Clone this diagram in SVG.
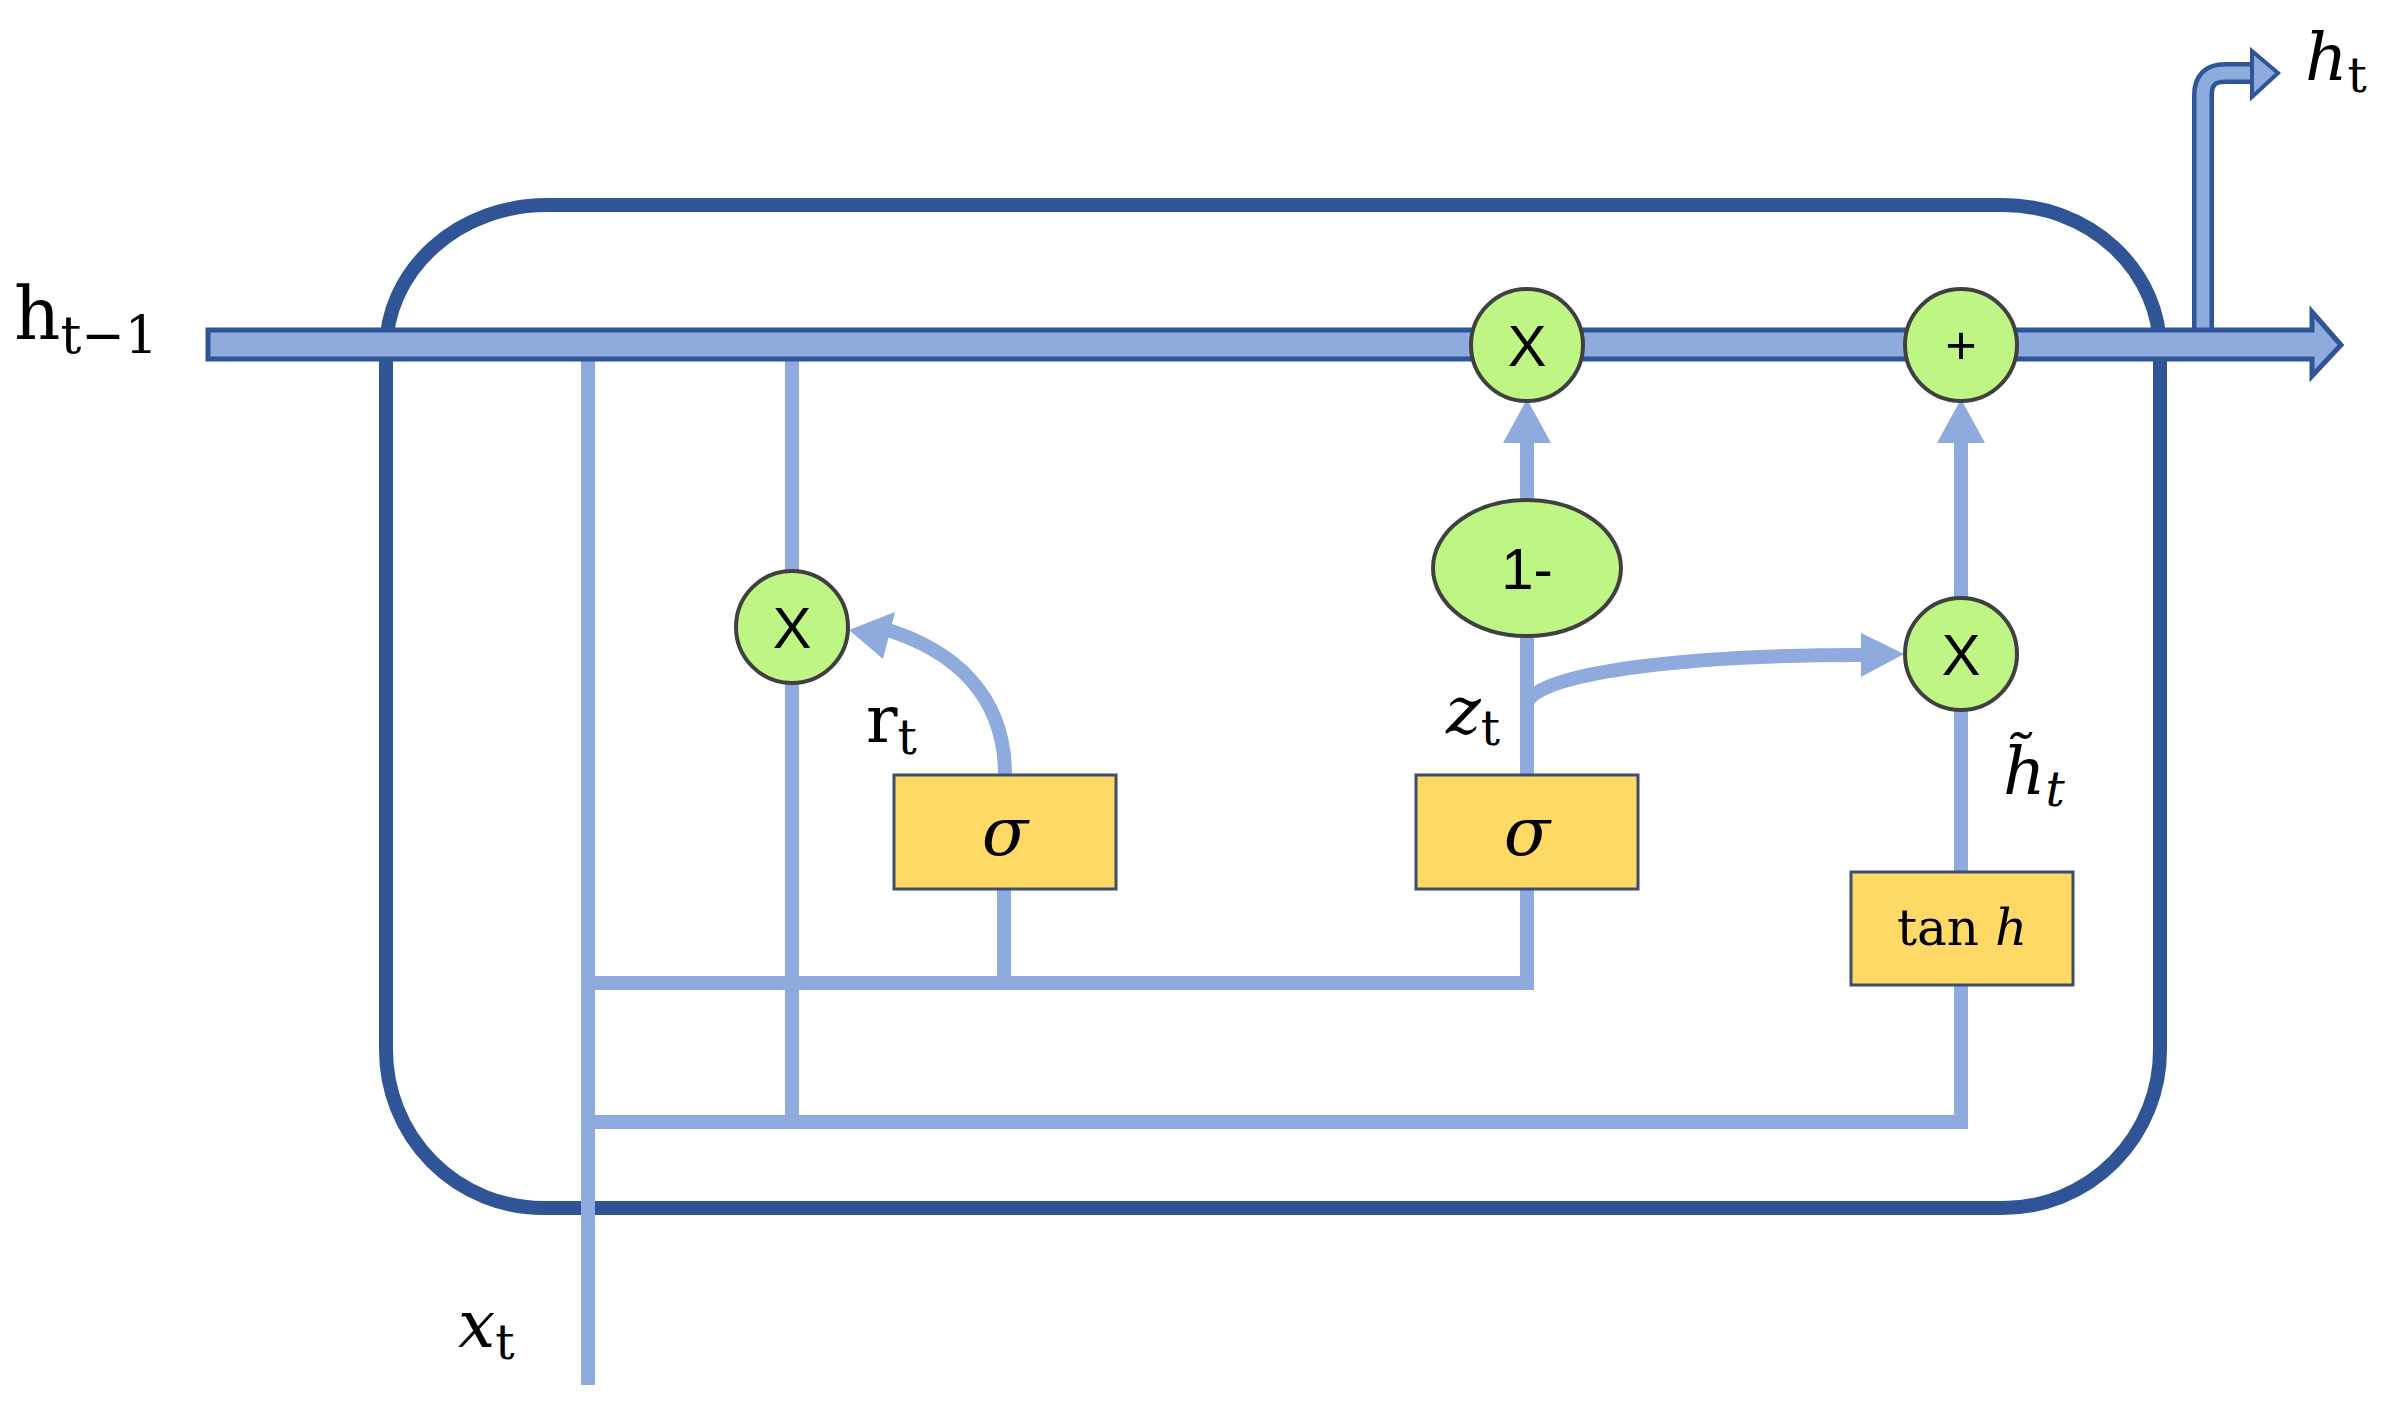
<svg xmlns="http://www.w3.org/2000/svg" width="2390" height="1421" viewBox="0 0 2390 1421">
<style>
.ln{stroke:#8FAADC;stroke-width:14;fill:none}
.ah{fill:#8FAADC}
.op{fill:#BEF584;stroke:#404040;stroke-width:4}
.bx{fill:#FFD966;stroke:#3B4E6B;stroke-width:3}
.t{font-family:"DejaVu Serif","Liberation Serif",serif;fill:#000}
.s{font-family:"Liberation Sans",Arial,sans-serif;fill:#000;text-anchor:middle}
</style>
<rect width="2390" height="1421" fill="#fff"/>
<g id="cell">
<path d="M386,350 A161,145 0 0 1 547,205 L2003,205 A157,145 0 0 1 2160,350 L2160,1050 A157,158 0 0 1 2003,1208 L543,1208 A157,158 0 0 1 386,1050 Z" fill="none" stroke="#2F5597" stroke-width="14"/>
</g>
<g id="connectors">
<path class="ln" d="M588,359 V1385 M792,359 V571 M792,683 V1122 M581,983 H1534 M1004,889 V983 M1527,889 V983 M581,1122 H1968 M1961,985 V1122 M1527,636 V775 M1961,710 V872 M1527,500 V440 M1961,598 V440"/>
<polygon class="ah" points="1503,443 1527,399 1551,443"/>
<polygon class="ah" points="1937,443 1961,399 1985,443"/>
<path class="ln" d="M1527,702 C1545,670 1700,655 1864,655"/>
<polygon class="ah" points="1861,633 1904,654 1861,677"/>
<path class="ln" d="M1005,775 C1005,700 960,650 878,627"/>
<polygon class="ah" points="849,630 895,612 883,659"/>
<path d="M2203,335 V95 Q2203,73 2225,73 H2254" fill="none" stroke="#2F5597" stroke-width="22"/>
<path d="M2203,338 V95 Q2203,73 2225,73 H2256" fill="none" stroke="#8FAADC" stroke-width="13"/>
<polygon points="2252,51 2278,73 2252,97" fill="#8FAADC" stroke="#2F5597" stroke-width="4"/>
<path d="M208,330 H2312 V312 L2341,345 L2312,376 V359 H208 Z" fill="#8FAADC" stroke="#2F5597" stroke-width="5"/>
</g>
<g id="mulReset"><circle class="op" cx="792" cy="627" r="56"/><text class="s" x="792" y="648" font-size="58">X</text></g>
<g id="mulTop"><circle class="op" cx="1527" cy="345" r="56"/><text class="s" x="1527" y="366" font-size="58">X</text></g>
<g id="add"><circle class="op" cx="1961" cy="345" r="56"/><text class="s" x="1961" y="364" font-size="54">+</text></g>
<g id="oneMinus"><ellipse class="op" cx="1527" cy="568" rx="94" ry="68"/><text class="s" x="1527" y="589" font-size="58">1-</text></g>
<g id="mulCand"><circle class="op" cx="1961" cy="654" r="56"/><text class="s" x="1961" y="675" font-size="58">X</text></g>
<g id="sigmaR"><rect class="bx" x="894" y="775" width="222" height="114"/><text class="t" x="1005" y="855" font-size="68" font-style="italic" text-anchor="middle">σ</text></g>
<g id="sigmaZ"><rect class="bx" x="1416" y="775" width="222" height="114"/><text class="t" x="1527" y="855" font-size="68" font-style="italic" text-anchor="middle">σ</text></g>
<g id="tanh"><rect class="bx" x="1851" y="872" width="222" height="113"/><text class="t" x="1962" y="945" font-size="50" text-anchor="middle">tan <tspan font-style="italic">h</tspan></text></g>
<g id="labels">
<text class="t" x="14" y="339" font-size="72">h<tspan font-size="52" dy="14">t−1</tspan></text>
<text class="t" x="2305" y="80" font-size="66" font-style="italic">h<tspan font-style="normal" font-size="48" dy="12">t</tspan></text>
<text class="t" x="866" y="742" font-size="66">r<tspan font-size="48" dy="12">t</tspan></text>
<text class="t" x="1446" y="733" font-size="66" font-style="italic">z<tspan font-style="normal" font-size="48" dy="12">t</tspan></text>
<text class="t" x="2003" y="794" font-size="66" font-style="italic">h̃<tspan font-size="48" dy="12">t</tspan></text>
<text class="t" x="458" y="1347" font-size="66" font-style="italic">x<tspan font-style="normal" font-size="48" dy="12">t</tspan></text>
</g>
</svg>
